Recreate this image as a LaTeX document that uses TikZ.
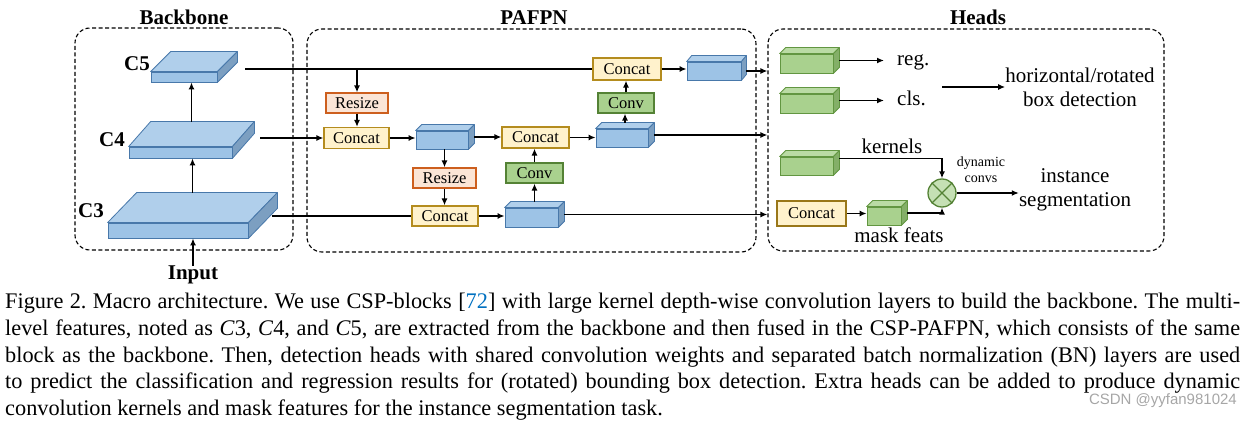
\documentclass[tikz,border=0pt]{standalone}
\usepackage{fontspec}
\setmainfont{Liberation Serif}
\setsansfont{Liberation Sans}
\usetikzlibrary{arrows.meta,calc}
\definecolor{BlueFront}{RGB}{157,195,230}
\definecolor{BlueTop}{RGB}{176,207,235}
\definecolor{BlueSide}{RGB}{124,159,193}
\definecolor{BlueLine}{RGB}{72,120,170}
\definecolor{GreenFront}{RGB}{169,209,142}
\definecolor{GreenTop}{RGB}{186,219,164}
\definecolor{GreenSide}{RGB}{132,175,104}
\definecolor{GreenLine}{RGB}{98,150,65}
\definecolor{ConcatClr}{RGB}{255,242,204}
\definecolor{ConcatLineClr}{RGB}{180,140,30}
\definecolor{ResizeClr}{RGB}{251,229,214}
\definecolor{ResizeLineClr}{RGB}{205,95,30}
\definecolor{ConvClr}{RGB}{169,209,142}
\definecolor{ConvLineClr}{RGB}{84,130,53}
\definecolor{MulClr}{RGB}{197,224,180}
\definecolor{CiteClr}{RGB}{0,112,192}

\tikzset{
  box/.style={draw,line width=1.2pt,minimum height=20pt,inner sep=0pt,font=\fontsize{16.5}{18}\selectfont},
  concat/.style={box,fill=ConcatClr,draw=ConcatLineClr},
  resize/.style={box,fill=ResizeClr,draw=ResizeLineClr},
  conv/.style={box,fill=ConvClr,draw=ConvLineClr},
  frame/.style={draw,dash pattern=on 4pt off 2.5pt,line width=1.1pt,rounded corners=15pt,inner sep=0pt},
  title/.style={font=\fontsize{21}{24}\selectfont\bfseries,inner sep=0pt},
  lbl/.style={font=\fontsize{21}{24}\selectfont,inner sep=0pt,align=center},
  small/.style={font=\fontsize{14}{16}\selectfont,inner sep=0pt,align=center},
  arr/.style={line width=1.6pt,-{Latex[length=7pt,width=6pt]}},
  ln/.style={line width=1.6pt},
}

\newcommand{\Slab}[8]{%
  \node[draw=#8Line,fill=#8Front,line width=.8pt,minimum width=#4pt,minimum height=#5pt,inner sep=0pt] (#1) at (#2,#3) {};
  \filldraw[draw=#8Line,fill=#8Top,line width=.8pt,line join=round] (#1.north west) -- ++(#6,#7) -- ($(#1.north east)+(#6,#7)$) -- (#1.north east) -- cycle;
  \filldraw[draw=#8Line,fill=#8Side,line width=.8pt,line join=round] (#1.north east) -- ++(#6,#7) -- ($(#1.south east)+(#6,#7)$) -- (#1.south east) -- cycle;
  \coordinate (#1-t) at ($(#1.north)+(#6/2,#7)$);
  \coordinate (#1-e) at ($(#1.east)+(#6,#7/2)$);
}

\begin{document}
\frenchspacing
\begin{tikzpicture}[x=1pt,y=-1pt]
\useasboundingbox (0,0) rectangle (1245,422);

\node[frame,minimum width=218pt,minimum height=222pt] (Bb) at (184,139) {};
\node[frame,minimum width=449pt,minimum height=223pt] (Pa) at (531.5,140.5) {};
\node[frame,minimum width=396pt,minimum height=222pt] (Hd) at (966,140) {};
\node[title] (BbT) at (184,17) {Backbone};
\node[title] (PaT) at (534,18) {PAFPN};
\node[title] (HdT) at (978,17) {Heads};

\Slab{C5}{184}{77}{66}{10}{20}{-20}{Blue}
\Slab{C4}{180.5}{152.5}{103}{11}{22}{-25}{Blue}
\Slab{C3}{178}{230.5}{140}{15}{29}{-30}{Blue}
\node[title,anchor=east] (C5L) at (150,64) {C5};
\node[title,anchor=east] (C4L) at (125,140) {C4};
\node[title,anchor=east] (C3L) at (104,211) {C3};
\node[title] (In) at (193,275) {Input};
\draw[arr] (In.north) -- (In.north |- C3.south);
\draw[arr] (C3-t) -- (C3-t |- C4.south);
\draw[arr] (C4-t) -- (C4-t |- C5.south);
\coordinate (C5o) at (245,69);
\coordinate (C4o) at (260,138);
\coordinate (C3o) at (272,216);

\node[resize,minimum width=62pt] (Rs1) at (357,103) {Resize};
\node[concat,minimum width=65pt,minimum height=21pt] (Cc1) at (356.5,138) {Concat};
\Slab{B2}{442}{140}{52}{18}{6}{-6}{Blue}
\node[concat,minimum width=67pt,minimum height=21pt] (Cc2) at (535.5,137.5) {Concat};
\Slab{B3}{622}{138}{52}{18}{6}{-6}{Blue}
\node[conv,minimum width=56pt] (Cv2) at (626,103) {Conv};
\node[concat,minimum width=68pt,minimum height=22pt] (Cc4) at (627,69) {Concat};
\Slab{B5}{714}{71}{54}{18}{5}{-6}{Blue}
\node[resize,minimum width=63pt] (Rs2) at (444.5,178) {Resize};
\node[concat,minimum width=66pt] (Cc3) at (445,216) {Concat};
\Slab{B4}{531.5}{217.5}{53}{19}{6}{-6}{Blue}
\node[conv,minimum width=57pt] (Cv1) at (534.5,173) {Conv};

\draw[ln] (C5o) -- (Cc4.west);
\draw[arr] (Rs1 |- C5o) -- (Rs1.north);
\draw[arr] (Rs1.south) -- (Rs1.south |- Cc1.north);
\draw[arr] (C4o) -- (Cc1.west);
\draw[arr] (Cc1.east) -- (Cc1.east -| B2.west);
\draw[arr] (B2-e) -- (B2-e -| Cc2.west);
\draw[arr] (Cc2.east) -- (Cc2.east -| B3.west);
\draw[arr] (B3-e) -- (B3-e -| Hd.west);
\draw[arr] (B3-t) -- (B3-t |- Cv2.south);
\draw[arr] (Cv2.north) -- (Cv2.north |- Cc4.south);
\draw[arr] (Cc4.east) -- (Cc4.east -| B5.west);
\draw[arr] ($(B5.east)+(5,0)$) -- (B5.east -| Hd.west);
\draw[arr] (Rs2.north |- B2.south) -- (Rs2.north);
\draw[arr] (Rs2.south) -- (Rs2.south |- Cc3.north);
\draw[ln] (C3o) -- (Cc3.west);
\draw[arr] (Cc3.east) -- (Cc3.east -| B4.west);
\draw[arr] (B4-t) -- (B4-t |- Cv1.south);
\draw[arr] (Cv1.north) -- (Cv1.north |- Cc2.south);
\draw[arr] (B4-e) -- (B4-e -| Hd.west);

\Slab{G1}{806.5}{63.5}{53}{19}{6}{-6}{Green}
\Slab{G2}{806.5}{103.5}{53}{19}{6}{-6}{Green}
\Slab{G3}{806.5}{166}{53}{18}{6}{-6}{Green}
\node[concat,draw=ConcatLineClr!85!black,line width=2.2pt,minimum width=69pt,minimum height=25pt] (Cc5) at (811.5,213.5) {Concat};
\Slab{G4}{884}{216}{34}{18}{6}{-6}{Green}
\node[lbl,anchor=base west] (Reg) at (897,66) {reg.};
\node[lbl,anchor=base west] (Cls) at (897,106) {cls.};
\node[lbl] (Det) at (1080,87) {horizontal/rotated\\box detection};
\coordinate (DetS) at (942,87);
\node[lbl,anchor=base] (Ker) at (892,154) {kernels};
\node[lbl,anchor=base] (Msk) at (899,243) {mask feats};
\node[small] (Dyn) at (981,170) {dynamic\\convs};
\node[lbl] (Seg) at (1075,190) {instance\\segmentation};
\node[circle,draw=ConvLineClr,fill=MulClr,line width=1.3pt,minimum size=28pt,inner sep=0pt] (Mul) at (942,193) {};
\draw[ConvLineClr,line width=1.3pt] (Mul.north west) -- (Mul.south east) (Mul.north east) -- (Mul.south west);

\draw[arr,shorten >=13pt] (G1-e) -- (G1-e -| Reg.west);
\draw[arr,shorten >=13pt] (G2-e) -- (G2-e -| Cls.west);
\draw[arr] (DetS) -- (Det.west);
\draw[arr] ($(G3.north east)+(6,2)$) -| (Mul.north);
\draw[arr] (Cc5.east) -- (Cc5.east -| G4.west);
\draw[arr] (G4-e) -| (Mul.south);
\draw[arr] (Mul.east) -- (Mul.east -| Seg.west);

\node[anchor=north west,inner sep=0pt,align=left,font=\fontsize{22.3}{26.7}\selectfont] (Cap) at (5,293) {%
\makebox[1235pt][s]{Figure 2. Macro architecture. We use CSP-blocks [\textcolor{CiteClr}{72}] with large kernel depth-wise convolution layers to build the backbone. The multi-}\\
\makebox[1235pt][s]{level features, noted as \textit{C}3, \textit{C}4, and \textit{C}5, are extracted from the backbone and then fused in the CSP-PAFPN, which consists of the same}\\
\makebox[1235pt][s]{block as the backbone. Then, detection heads with shared convolution weights and separated batch normalization (BN) layers are used}\\
\makebox[1235pt][s]{to predict the classification and regression results for (rotated) bounding box detection. Extra heads can be added to produce dynamic}\\
convolution kernels and mask features for the instance segmentation task.};
\node[anchor=east,inner sep=0pt,font=\sffamily\fontsize{15}{15}\selectfont,text=black!35] (Wm) at (1237,401) {CSDN @yyfan981024};
\end{tikzpicture}
\end{document}
